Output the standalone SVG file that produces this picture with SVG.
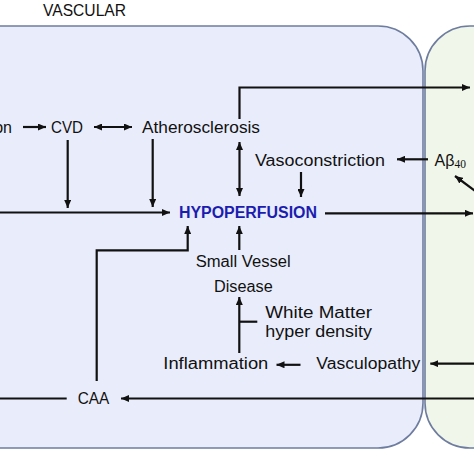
<svg xmlns="http://www.w3.org/2000/svg" width="474" height="474" viewBox="0 0 474 474">
<defs>
<marker id="ah" viewBox="0 0 8 7" refX="8" refY="3.5" markerWidth="8" markerHeight="7" markerUnits="userSpaceOnUse" orient="auto-start-reverse">
<path d="M0,0 L8,3.5 L0,7 z" fill="#111"/>
</marker>
<style>
.panel{stroke:#6e7d9f;stroke-width:1.6}
.t{font-family:"Liberation Sans","Open Sans",sans-serif;font-size:16px;fill:#111}
.hp{font-family:"Liberation Sans","Open Sans",sans-serif;font-size:16px;font-weight:bold;fill:#1c1db0}
.c{fill:none;stroke:#111;stroke-width:2.2}
.a{marker-end:url(#ah)}
.b{marker-start:url(#ah);marker-end:url(#ah)}
</style>
</defs>
<rect width="474" height="474" fill="#ffffff"/>
<g id="panels">
<rect id="vascular-panel" class="panel" x="-60" y="26" width="483" height="422" rx="45" ry="45" fill="#e9edfb"/>
<rect id="right-panel" class="panel" x="425" y="26" width="120" height="422" rx="45" ry="45" fill="#f0f6e9"/>
<text id="vascular-title" class="t" x="43" y="15.7" font-size="16.5" textLength="83" lengthAdjust="spacingAndGlyphs">VASCULAR</text>
</g>
<g id="connectors">
<line class="c a" x1="23" y1="127" x2="46" y2="127"/>
<line class="c b" x1="94" y1="127" x2="132" y2="127"/>
<line class="c a" x1="67.7" y1="140" x2="67.7" y2="208"/>
<line class="c a" x1="152.7" y1="139" x2="152.7" y2="207"/>
<line class="c a" x1="0" y1="212.5" x2="170" y2="212.5"/>
<line class="c b" x1="239.5" y1="142" x2="239.5" y2="196"/>
<polyline class="c a" points="239.5,119 239.5,87.5 470,87.5"/>
<line class="c a" x1="428" y1="159.3" x2="397" y2="159.3"/>
<line class="c a" x1="301" y1="172" x2="301" y2="197"/>
<line class="c a" x1="325" y1="213.3" x2="473" y2="213.3"/>
<line class="c a" x1="476" y1="191.5" x2="455" y2="176"/>
<line class="c a" x1="239.3" y1="250" x2="239.3" y2="226"/>
<polyline class="c a" points="96.7,381 96.7,250.3 187.7,250.3 187.7,226"/>
<line class="c a" x1="239.3" y1="353" x2="239.3" y2="297"/>
<line class="c" x1="239.3" y1="321.7" x2="257.3" y2="321.7"/>
<line class="c a" x1="300.5" y1="364.8" x2="276.5" y2="364.8"/>
<line class="c a" x1="474" y1="363.7" x2="430.3" y2="363.7"/>
<line class="c a" x1="474" y1="398.5" x2="121" y2="398.5"/>
<line class="c" x1="66.7" y1="398.5" x2="0" y2="398.5"/>
</g>
<g id="node-on"><text class="t" x="12" y="133" text-anchor="end">on</text></g>
<g id="node-cvd"><text class="t" x="51" y="133" textLength="32" lengthAdjust="spacingAndGlyphs">CVD</text></g>
<g id="node-atherosclerosis"><text class="t" x="142" y="133" textLength="118" lengthAdjust="spacingAndGlyphs">Atherosclerosis</text></g>
<g id="node-vasoconstriction"><text class="t" x="255" y="165.7" textLength="130" lengthAdjust="spacingAndGlyphs">Vasoconstriction</text></g>
<g id="node-abeta40"><text class="t" x="434.5" y="166">Aβ<tspan font-family="'Liberation Serif',serif" font-size="11.5" dy="2.3">40</tspan></text></g>
<g id="node-hypoperfusion"><text class="hp" x="179" y="217.7" textLength="138" lengthAdjust="spacingAndGlyphs">HYPOPERFUSION</text></g>
<g id="node-svd">
<text class="t" x="195.7" y="267.3" textLength="95" lengthAdjust="spacingAndGlyphs">Small Vessel</text>
<text class="t" x="214" y="291.7" textLength="58.7" lengthAdjust="spacingAndGlyphs">Disease</text>
</g>
<g id="node-wmh">
<text class="t" x="265.3" y="317.5" textLength="106.7" lengthAdjust="spacingAndGlyphs">White Matter</text>
<text class="t" x="265.3" y="336.5" textLength="106.7" lengthAdjust="spacingAndGlyphs">hyper density</text>
</g>
<g id="node-inflammation"><text class="t" x="163.3" y="369.3" textLength="105" lengthAdjust="spacingAndGlyphs">Inflammation</text></g>
<g id="node-vasculopathy"><text class="t" x="316.3" y="368.7" textLength="104" lengthAdjust="spacingAndGlyphs">Vasculopathy</text></g>
<g id="node-caa"><text class="t" x="77.7" y="403.7" textLength="31.6" lengthAdjust="spacingAndGlyphs">CAA</text></g>
</svg>
